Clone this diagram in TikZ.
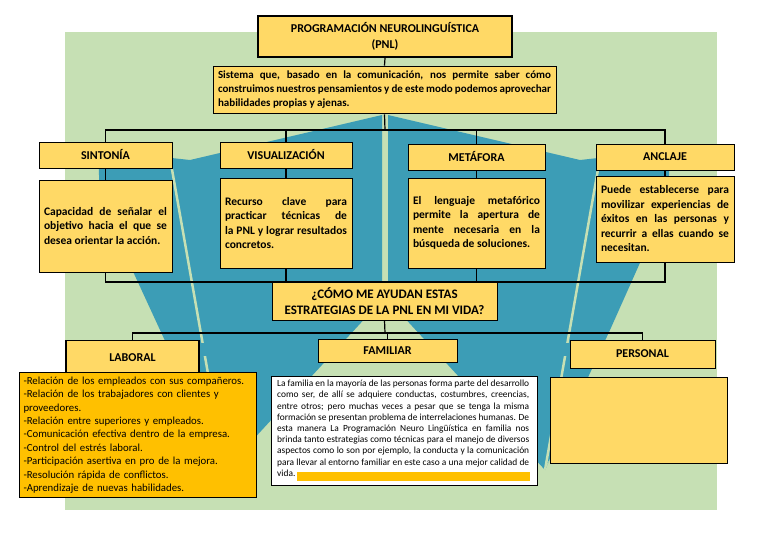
\documentclass[tikz,border=0pt]{standalone}
\usepackage{fontspec}
\setmainfont{Carlito}
\begin{document}
\hyphenpenalty=10000 \exhyphenpenalty=10000
\begin{tikzpicture}[x=1pt,y=-1pt,
  box/.style={draw=black,fill=yel,line width=1pt,inner sep=3pt},
  hdr/.style={box,font=\bfseries\fontsize{12}{14}\selectfont,align=center},
  txt/.style={box,font=\bfseries\fontsize{11.5}{14.5}\selectfont,align=justify,inner sep=5pt},
  ln/.style={line width=1.2pt,black}]
\definecolor{yel}{HTML}{FFD966}
\definecolor{org}{HTML}{FFC000}
\definecolor{grn}{HTML}{C6E0B4}
\definecolor{teal}{HTML}{3C9DB6}
\useasboundingbox (0,0) rectangle (768,543);
\fill[white] (0,0) rectangle (768,543);
\fill[grn] (65,32) rectangle (717,510);
% teal fans
\begin{scope}
\clip (98,150) -- (190,160) -- (382,115) -- (382,300) -- (225,470) -- (160,330) -- (100,200) -- cycle;
\fill[teal] (0,0) rectangle (768,543);
\foreach \a in {100,120,150,175,245,290,330}{\draw[grn,line width=2.5pt] (225,470) -- ++(-\a:330);}
\end{scope}
\begin{scope}
\clip (670,150) -- (580,160) -- (388,115) -- (388,300) -- (545,470) -- (610,330) -- (668,200) -- cycle;
\fill[teal] (0,0) rectangle (768,543);
\foreach \a in {210,250,295,5,30,60,80}{\draw[grn,line width=2.5pt] (545,470) -- ++(-\a:330);}
\end{scope}
\fill[teal] (200,343) rectangle (570,356);
% nodes
\node[box,line width=2pt,minimum width=254,minimum height=41,font=\bfseries\fontsize{12}{16}\selectfont,align=center] (t) at (385,36.5) {PROGRAMACIÓN NEUROLINGUÍSTICA\\(PNL)};
\node[txt,text width=333,inner sep=5pt,font=\bfseries\fontsize{11}{14}\selectfont] (s) at (384.5,90) {Sistema que, basado en la comunicación, nos permite saber cómo construimos nuestros pensamientos y de este modo podemos aprovechar habilidades propias y ajenas.};
\node[hdr,minimum width=133,minimum height=26] (h1) at (105.5,155) {SINTONÍA};
\node[hdr,minimum width=132,minimum height=26] (h2) at (286,155) {VISUALIZACIÓN};
\node[hdr,minimum width=137,minimum height=26] (h3) at (476.5,157) {METÁFORA};
\node[hdr,minimum width=138,minimum height=26] (h4) at (665,157) {ANCLAJE};
\node[txt,minimum width=133,minimum height=92,text width=123] (c1) at (105.5,226) {Capacidad de señalar el objetivo hacia el que se desea orientar la acción.};
\node[txt,minimum width=132,minimum height=90,text width=122] (c2) at (286,223) {Recurso clave para practicar técnicas de la PNL y lograr resultados concretos.};
\node[txt,minimum width=137,minimum height=90,text width=127] (c3) at (476.5,223) {El lenguaje metafórico permite la apertura de mente necesaria en la búsqueda de soluciones.};
\node[txt,minimum width=138,minimum height=86,text width=128] (c4) at (665,219) {Puede establecerse para movilizar experiencias de éxitos en las personas y recurrir a ellas cuando se necesitan.};
\node[hdr,minimum width=225,minimum height=38,font=\bfseries\fontsize{13}{16}\selectfont] (q) at (384.5,301) {¿CÓMO ME AYUDAN ESTAS\\ESTRATEGIAS DE LA PNL EN MI VIDA?};
\node[hdr,line width=1.6pt,minimum width=133,minimum height=34] (l) at (132.5,357.5) {LABORAL};
\node[hdr,minimum width=139,minimum height=23] (f) at (387.5,351) {FAMILIAR};
\node[hdr,minimum width=145,minimum height=28] (p) at (642.5,354) {PERSONAL};
\node[box,fill=org,minimum width=237,minimum height=125,anchor=north west,align=left,text width=229,inner sep=3pt,font=\fontsize{10.8}{13.4}\selectfont] (lc) at (19,372) {-Relación de los empleados con sus compañeros.\\-Relación de los trabajadores con clientes y\\proveedores.\\-Relación entre superiores y empleados.\\-Comunicación efectiva dentro de la empresa.\\-Control del estrés laboral.\\-Participación asertiva en pro de la mejora.\\-Resolución rápida de conflictos.\\-Aprendizaje de nuevas habilidades.};
\node[box,fill=white,minimum width=266,minimum height=109,anchor=north west] (fc) at (271,376) {};
\fill[org] (297,472) rectangle (530,481);
\node[anchor=north west,text width=252,align=justify,inner sep=0pt,font=\fontsize{9.4}{11.2}\selectfont] at (277,380) {La familia en la mayoría de las personas forma parte del desarrollo como ser, de allí se adquiere conductas, costumbres, creencias, entre otros; pero muchas veces a pesar que se tenga la misma formación se presentan problema de interrelaciones humanas. De esta manera La Programación Neuro Lingüística en familia nos brinda tanto estrategias como técnicas para el manejo de diversos aspectos como lo son por ejemplo, la conducta y la comunicación para llevar al entorno familiar en este caso a una mejor calidad de vida.};
\node[box,minimum width=177,minimum height=86,anchor=north west] (pc) at (550,377) {};
% connectors
\draw[ln] (t.south) -- (s.north);
\draw[ln] (s.south) -- (385,130);
\draw[ln] (h1.north) |- (385,130) -| (h4.north);
\draw[ln] (h2.north) -- (h2.north|-0,130);
\draw[ln] (h3.north) -- (h3.north|-0,130);
\foreach \i in {1,2,3,4}{\draw[ln] (h\i) -- (c\i);}
\draw[ln] (c1.south) |- (385,282) -| (c4.south);
\draw[ln] (c2.south) -- (c2.south|-0,282);
\draw[ln] (c3.south) -- (c3.south|-0,282);
\draw[ln] (q.south) -- (385,333);
\draw[ln] (l.north) |- (385,333) -| (p.north);
\draw[ln] (f.north) -- (f.north|-0,333);
\end{tikzpicture}
\end{document}
